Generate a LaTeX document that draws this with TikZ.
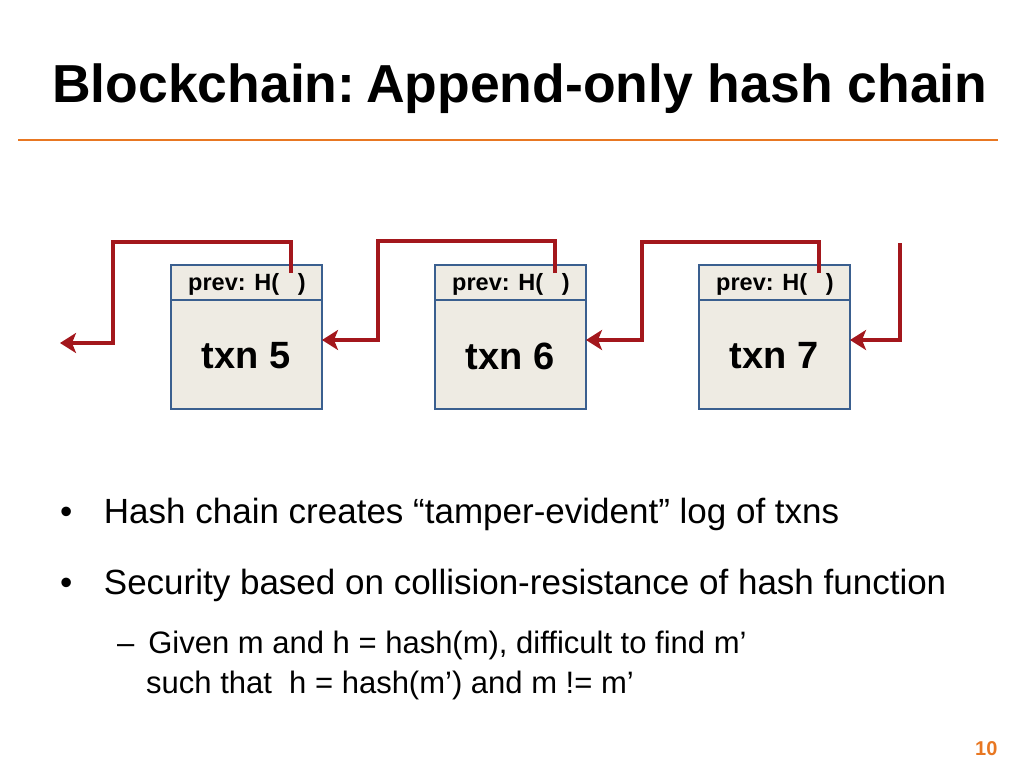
\documentclass[tikz,border=0pt]{standalone}
\usepackage{fontspec}
\setmainfont{Liberation Sans}
\usetikzlibrary{arrows.meta}
\definecolor{lnk}{HTML}{A3171C}
\definecolor{bfill}{HTML}{EEEBE3}
\definecolor{bdraw}{HTML}{3A5F8F}
\definecolor{org}{HTML}{E87722}
\begin{document}
\begin{tikzpicture}[x=1pt,y=-1pt,
  blk/.style={draw=bdraw,line width=1.5pt,fill=bfill},
  hdr/.style={font=\bfseries\fontsize{23.5}{25}\selectfont,anchor=center,inner sep=0},
  txt/.style={font=\bfseries\fontsize{38}{40}\selectfont,anchor=center},
  link/.style={draw=lnk,line width=3.5pt,-{Stealth[length=16pt,width=20pt,inset=4pt]}},
  body/.style={font=\fontsize{35}{40}\selectfont,anchor=base west},
  sub/.style={font=\fontsize{31}{36}\selectfont,anchor=base west}]
\useasboundingbox (0,0) rectangle (1024,768);
\node[font=\bfseries\fontsize{53.5}{60}\selectfont,anchor=base west,inner sep=0] (title) at (52,102) {Blockchain:\hspace{0.2em}Append-only hash chain};
\draw[org,line width=2.5pt] (18,140) -- (998,140);
\foreach \n/\x in {5/171,6/435,7/699}{
  \draw[blk] (\x,265) rectangle ++(151,144);
  \draw[bdraw,line width=1.5pt] (\x,300) -- ++(151,0);
  \node[hdr] (h\n) at (\x+76,284) {prev: H(\hspace{0.8em})};
  \node[txt] (t\n) at (\x+75,356) {txn \n};
  \coordinate (L\n) at (\x,340);
  \coordinate (R\n) at (\x+151,340);
  \coordinate (S\n) at (\x+120,273);
}
\coordinate (end) at (60,343);
\coordinate (top) at (900,243);
\draw[link] (S5) |- (113,242) |- (end);
\draw[link] (S6) |- (378,241) |- (R5);
\draw[link] (S7) |- (642,242) |- (R6);
\draw[link] (top) |- (R7);
\node[body,inner sep=0] (b1) at (60,523) {•\hspace{0.9em}Hash chain creates “tamper-evident” log of txns};
\node[body,inner sep=0] (b2) at (60,594) {•\hspace{0.9em}Security based on collision-resistance of hash function};
\node[sub,inner sep=0] (s1) at (117,653) {–\hspace{0.45em}Given m and h = hash(m), difficult to find m’};
\node[sub,inner sep=0] (s2) at (146,693) {such that\ \ h = hash(m’) and m != m’};
\node[font=\bfseries\fontsize{20}{22}\selectfont,text=org,anchor=base east] (pg) at (1001,755) {10};
\end{tikzpicture}
\end{document}
